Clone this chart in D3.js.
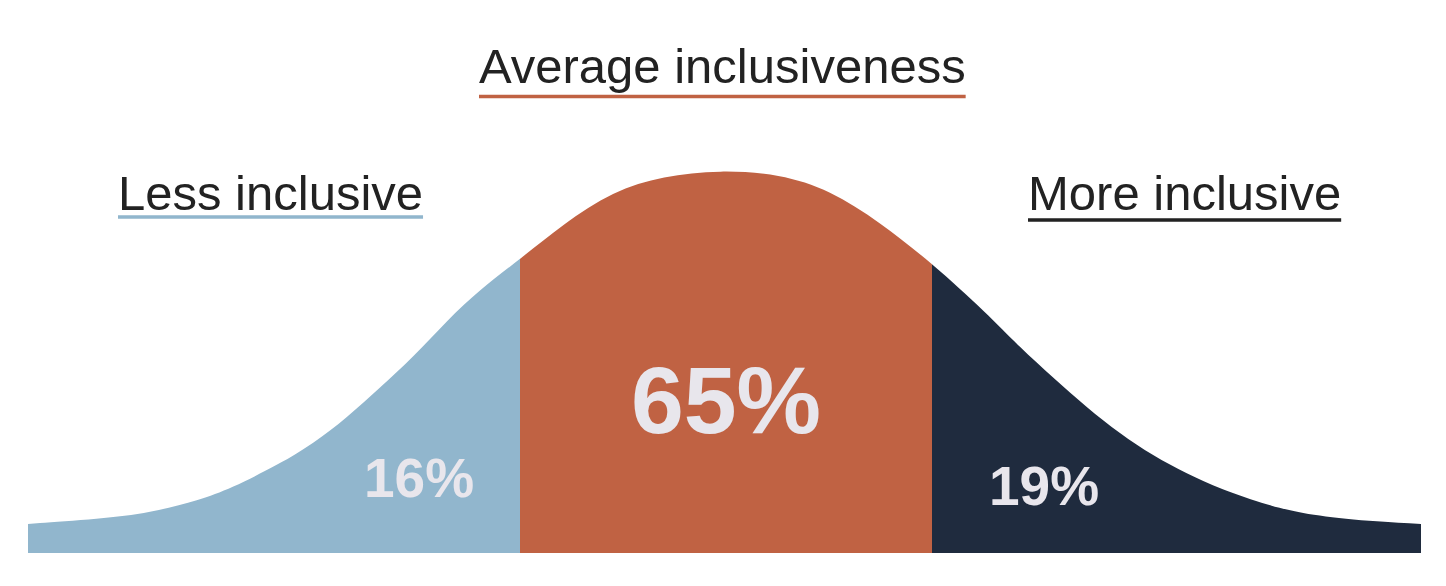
<!DOCTYPE html>
<html>
<head>
<meta charset="utf-8">
<script src="https://cdn.jsdelivr.net/npm/d3@7"></script>
<style>
  html, body { margin: 0; padding: 0; background: #ffffff; }
  svg { display: block; }
  text { font-family: "Liberation Sans", Arial, Helvetica, sans-serif; }
</style>
</head>
<body>
<script>
// ---- Data ----
// Curve: inclusiveness score (0-100) and relative density (height units)
const curveScore = [0, 5.17, 8.76, 12.35, 14.5, 18.09, 20.46, 22.9, 25.27, 27.64, 30.08, 32.45, 35.32,
  38.41, 42.0, 45.59, 49.68, 53.98, 57.57, 61.16, 64.9, 68.84, 71.21, 73.58, 76.02, 78.39,
  80.76, 83.2, 85.57, 89.16, 91.31, 94.9, 100];
const curveDensity = [29, 34, 40, 53, 64, 89, 109, 135, 165, 195, 232, 263, 293,
  328, 361, 376, 382, 378, 362, 330, 289, 239, 205, 175, 145, 119,
  97, 79, 64, 47, 40, 33, 29];

const groups = ["Less inclusive", "Average inclusiveness", "More inclusive"];
const groupShares = [16, 65, 19];
const groupBounds = [0, 35.32, 64.9, 100];
const groupColors = ["#91b6cd", "#c06243", "#1f2b3e"];
const underlineColors = ["#91b6cd", "#c06243", "#222222"];

// ---- Layout ----
const W = 1446, H = 586;
const svg = d3.select("body").append("svg").attr("width", W).attr("height", H);

const x = d3.scaleLinear().domain([0, 100]).range([28, 1421]);
const y = d3.scaleLinear().domain([0, 381]).range([553, 171]);

const pts = curveScore.map((s, i) => ({ s, d: curveDensity[i] }));

const area = d3.area()
  .x(p => x(p.s))
  .y0(y(0))
  .y1(p => y(p.d))
  .curve(d3.curveBasis);

const defs = svg.append("defs");
groups.forEach((g, i) => {
  defs.append("clipPath").attr("id", "clip" + i)
    .append("rect")
    .attr("x", x(groupBounds[i]))
    .attr("y", 0)
    .attr("width", x(groupBounds[i + 1]) - x(groupBounds[i]))
    .attr("height", H);
  svg.append("path")
    .datum(pts)
    .attr("d", area)
    .attr("fill", groupColors[i])
    .attr("clip-path", `url(#clip${i})`);
});

// ---- Percent labels ----
const pctLabels = [
  { i: 0, cx: 419, by: 497, size: 55 },
  { i: 1, cx: 726, by: 433, size: 95 },
  { i: 2, cx: 1044, by: 505, size: 55 }
];
pctLabels.forEach(l => {
  svg.append("text")
    .attr("x", l.cx).attr("y", l.by)
    .attr("text-anchor", "middle")
    .attr("font-weight", "bold")
    .attr("font-size", l.size)
    .attr("fill", "#e8e6ec")
    .text(groupShares[l.i] + "%");
});

// ---- Group titles with underlines ----
const titles = [
  { i: 0, x0: 118, by: 210, uy: 217 },
  { i: 1, x0: 479, by: 83, uy: 96.5 },
  { i: 2, x0: 1028, by: 210, uy: 220 }
];
titles.forEach(t => {
  const txt = svg.append("text")
    .attr("x", t.x0).attr("y", t.by)
    .attr("font-size", 49)
    .attr("fill", "#222222")
    .text(groups[t.i]);
  const w = txt.node().getComputedTextLength();
  svg.append("rect")
    .attr("x", t.x0)
    .attr("y", t.uy - 1.75)
    .attr("width", w)
    .attr("height", 3.5)
    .attr("fill", underlineColors[t.i]);
});
</script>
</body>
</html>
